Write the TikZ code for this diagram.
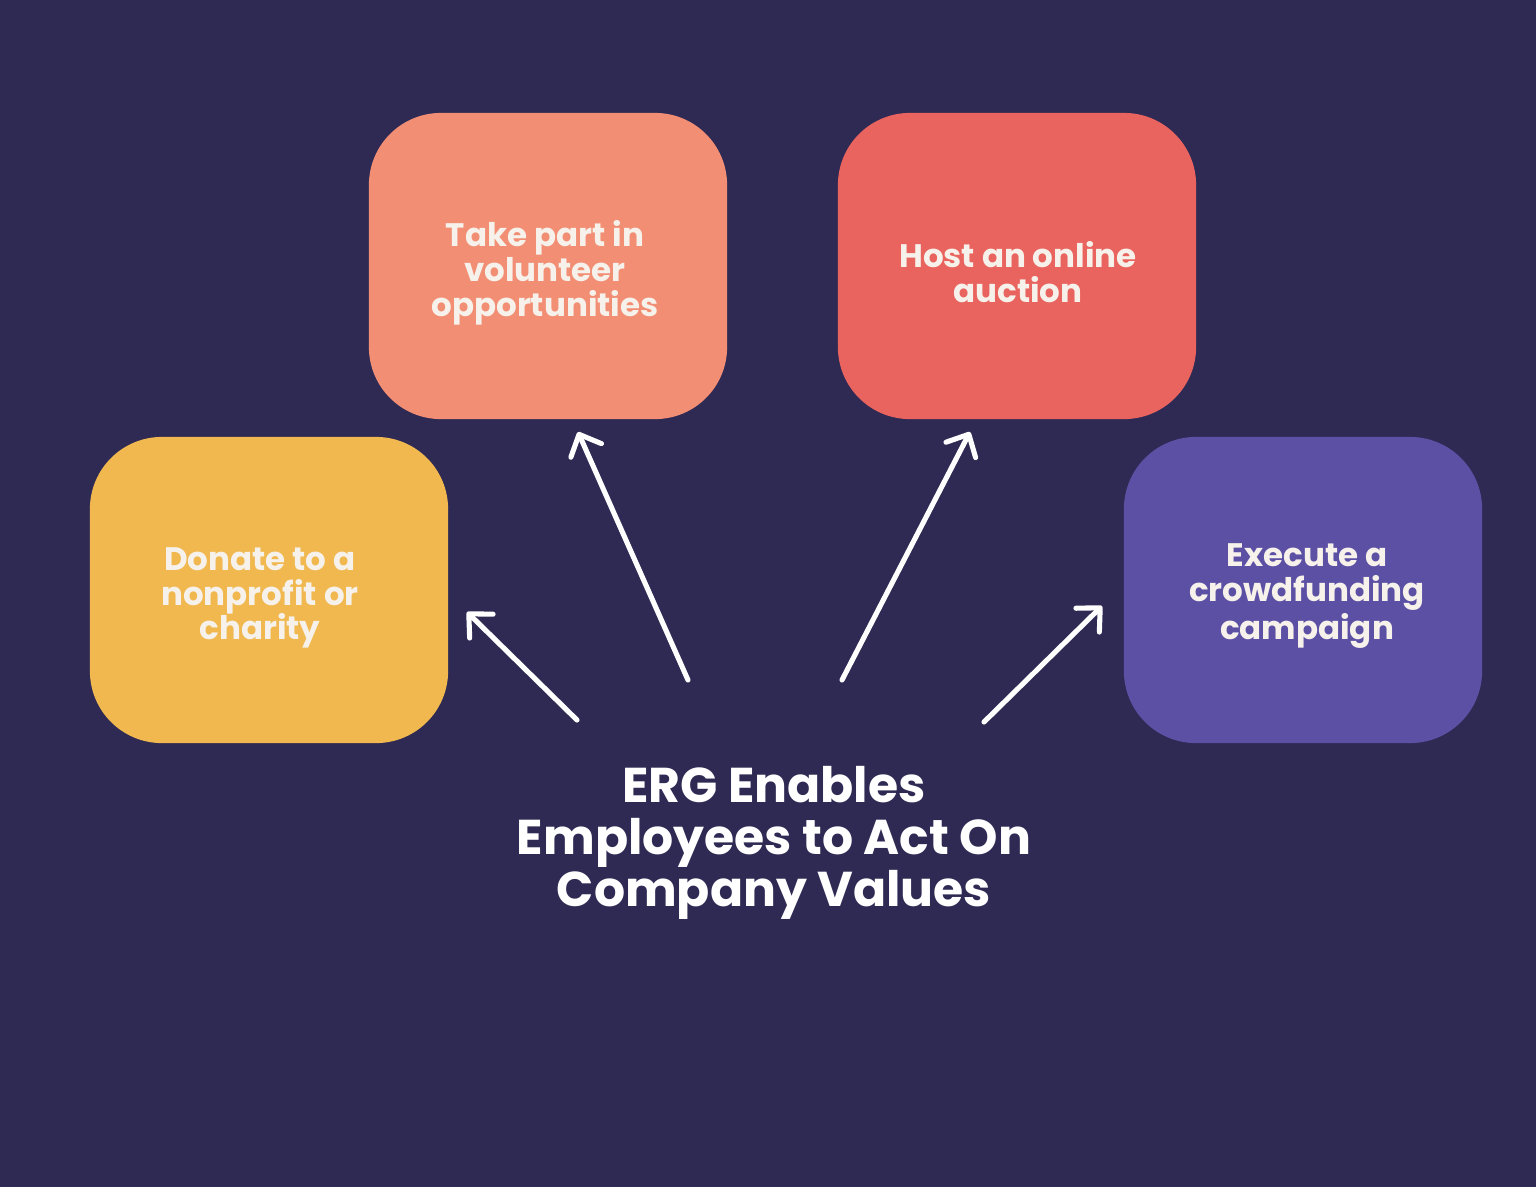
\documentclass[tikz,border=0pt]{standalone}
\usepackage{fontspec}
\setmainfont{Poppins}
\usetikzlibrary{arrows.meta}
\definecolor{bg}{HTML}{2F2A54}
\definecolor{cyellow}{HTML}{F0B84F}
\definecolor{csalmon}{HTML}{F28E74}
\definecolor{cred}{HTML}{E9645E}
\definecolor{cpurple}{HTML}{5C50A5}
\definecolor{boxtext}{HTML}{F6F1EA}
\tikzset{
  card/.style={fill=#1, draw=none, rounded corners=0.72cm, minimum width=3.58cm, minimum height=3.06cm, inner sep=0pt},
  cardtext/.style={text=boxtext, font=\fontsize{9.25pt}{9.9pt}\selectfont\bfseries, align=center, inner sep=0pt},
  arr/.style={draw=white, line width=1.45pt, line cap=round,
    -{Straight Barb[length=5pt, width=9.5pt, line cap=round, line join=round]}},
  title/.style={text=white, font=\fontsize{13.9pt}{14.8pt}\selectfont\bfseries, align=center}
}
\begin{document}
\begin{tikzpicture}[x=0.01cm, y=-0.01cm]
\fill[bg] (0,0) rectangle (1536,1187);
\useasboundingbox (0,0) rectangle (1536,1187);
\node[card=cyellow] (donate) at (269,590) {};
\node[card=csalmon] (volunteer) at (548,266) {};
\node[card=cred] (auction) at (1017,266) {};
\node[card=cpurple] (crowd) at (1303,590) {};
\node[cardtext] (donatetext) at (260,598) {Donate to a\\nonprofit or\\charity};
\node[cardtext] (volunteertext) at (545,273) {Take part in\\volunteer\\opportunities};
\node[cardtext] (auctiontext) at (1018,272) {Host an online\\auction};
\node[cardtext] (crowdtext) at (1307,596) {Execute a\\crowdfunding\\campaign};
\node[title] (erg) at (774,843) {ERG Enables\\Employees to Act On\\Company Values};
\coordinate (s1) at (577,720);
\coordinate (e1) at (467,612);
\coordinate (s2) at (688,680);
\coordinate (e2) at (578,432);
\coordinate (s3) at (842,680);
\coordinate (e3) at (970,432);
\coordinate (s4) at (984,722);
\coordinate (e4) at (1102,606);
\draw[arr] (s1) -- (e1);
\draw[arr] (s2) -- (e2);
\draw[arr] (s3) -- (e3);
\draw[arr] (s4) -- (e4);
\end{tikzpicture}
\end{document}
